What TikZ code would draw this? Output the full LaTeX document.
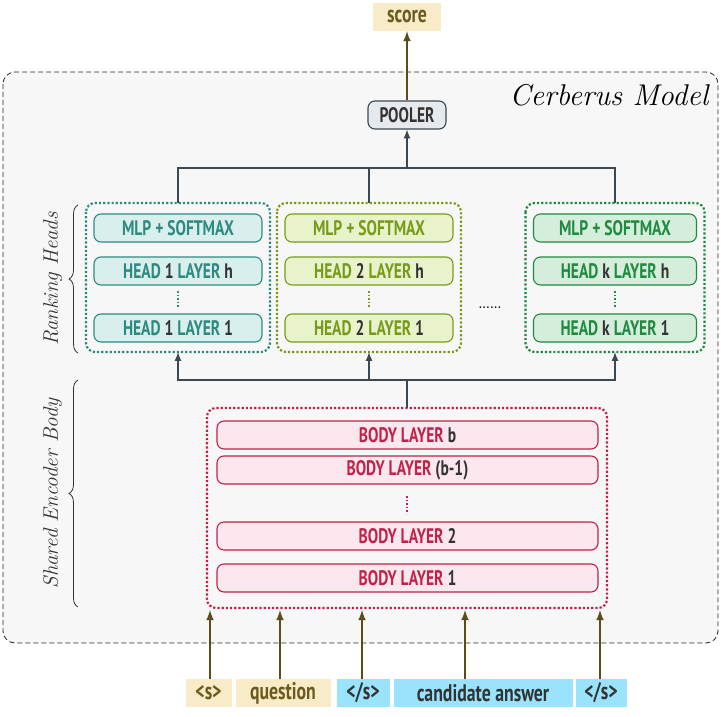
\documentclass[tikz,border=0pt]{standalone}
\usepackage{fontspec}
\newfontfamily\cond{PT Sans}[FakeStretch=0.74]
\usetikzlibrary{positioning,decorations.pathreplacing}
\definecolor{tealB}{HTML}{2E8A80}\definecolor{tealF}{HTML}{D8EFED}
\definecolor{limeB}{HTML}{789A18}\definecolor{limeF}{HTML}{E8F3CC}
\definecolor{grnB}{HTML}{1F8A40}\definecolor{grnF}{HTML}{D5EEDC}
\definecolor{bodyB}{HTML}{C0224A}\definecolor{bodyF}{HTML}{FBE7ED}
\definecolor{poolB}{HTML}{3D4750}\definecolor{poolF}{HTML}{E6EAEE}
\definecolor{tokY}{HTML}{F8EBC8}\definecolor{tokB}{HTML}{99E4FC}
\definecolor{tokT}{HTML}{6B5A1E}\definecolor{arr}{HTML}{3D4750}
\tikzset{
  layer/.style={draw=#1B, fill=#1F, text=#1B, rounded corners=7pt, line width=1.1pt,
    minimum height=28pt, inner sep=0pt, font=\cond\bfseries\fontsize{21}{21}\selectfont},
  group/.style={draw=#1, rounded corners=9pt, line width=2.2pt, dotted},
  tok/.style={fill=#1, minimum height=28pt, inner sep=2pt, font=\cond\bfseries\fontsize{24}{24}\selectfont},
  up/.style={-latex, line width=2.4pt, draw=tokT!85!black},
  link/.style={line width=2pt, draw=arr},
  vd/.style={line width=1.6pt, dotted},
  lbl/.style={rotate=90, anchor=south, font=\itshape\fontsize{21}{21}\selectfont},
}
\newcommand{\dk}[1]{\textcolor{black!80}{#1}}
\begin{document}
\begin{tikzpicture}[x=1pt,y=-1pt]
\useasboundingbox (0,0) rectangle (721,717);
% frame
\draw[dash pattern=on 5pt off 3pt, draw=black!85, line width=0.8pt, fill=black!3, rounded corners=12pt] (3,72) rectangle (718,643);
\node[font=\itshape\fontsize{30}{30}\selectfont, anchor=east] (title) at (712,95) {Cerberus Model};
% output
\node[tok=tokY, text=tokT, minimum width=68pt] (score) at (407,17) {score};
\node[layer=pool, text=black!80, minimum width=78pt] (pooler) at (407,115) {POOLER};
\draw[up] (pooler) -- (score);
% heads
\foreach \c/\x/\w/\k in {teal/178/168/1, lime/369/168/2, grn/615/163/k}{
  \node[layer=\c, minimum width=\w pt] (mlp\k) at (\x,228) {MLP + SOFTMAX};
  \node[layer=\c, minimum width=\w pt] (hh\k) at (\x,271) {HEAD \dk{\k} LAYER \dk{h}};
  \node[layer=\c, minimum width=\w pt] (h1\k) at (\x,328) {HEAD \dk{\k} LAYER \dk{1}};
  \draw[vd, draw=\c B] (\x,291) -- (\x,308);
  \draw[group=\c B] (\x-\w/2-8,203) rectangle (\x+\w/2+8,352);
  \coordinate (gt\k) at (\x,203);
  \coordinate (gb\k) at (\x,352);
}
\node[font=\bfseries\large] (hdots) at (490,308) {......};
% pooler links
\coordinate (split) at (407,168);
\draw[link,-latex] (split) -- (pooler);
\foreach \k in {1,2,k} \draw[link] (gt\k) |- (split);
% body
\draw[group=bodyB] (207,408) rectangle (607,608);
\foreach \n/\y/\t in {b/435/{BODY LAYER \dk{b}}, bb/470/{BODY LAYER \dk{(b-1)}},
                      two/536/{BODY LAYER \dk{2}}, one/578/{BODY LAYER \dk{1}}}
  \node[layer=body, minimum width=381pt] (L\n) at (407.5,\y) {\t};
\draw[vd, draw=bodyB] (407,496) -- (407,514);
\coordinate (btop) at (407,408);
\coordinate (fork) at (407,380);
\draw[link] (btop) -- (fork);
\foreach \k in {1,2,k} \draw[link,-latex] (fork) -| (gb\k);
% braces
\draw[decorate, decoration={brace, amplitude=9pt}, thick, black!80] (78,353) -- (78,205)
  node[midway, left=12pt, lbl] (rh) {Ranking Heads};
\draw[decorate, decoration={brace, amplitude=9pt}, thick, black!80] (78,607) -- (78,380)
  node[midway, left=12pt, lbl] (seb) {Shared Encoder Body};
% tokens
\node[tok=tokY, text=tokT, minimum width=46pt] (t1) at (208.5,693) {<s>};
\node[tok=tokY, text=tokT, minimum width=95pt] (t2) at (283,693) {question};
\node[tok=tokB, text=black!80, minimum width=53pt] (t3) at (363,693) {</s>};
\node[tok=tokB, text=black!80, minimum width=179pt] (t4) at (483,693) {candidate answer};
\node[tok=tokB, text=black!80, minimum width=51pt] (t5) at (601,693) {</s>};
\foreach \k/\x in {1/210, 2/280, 3/362, 4/465, 5/600}{
  \coordinate (in\k) at (\x,610);
  \draw[up] (in\k |- t\k.north) -- (in\k);
}
\end{tikzpicture}
\end{document}
